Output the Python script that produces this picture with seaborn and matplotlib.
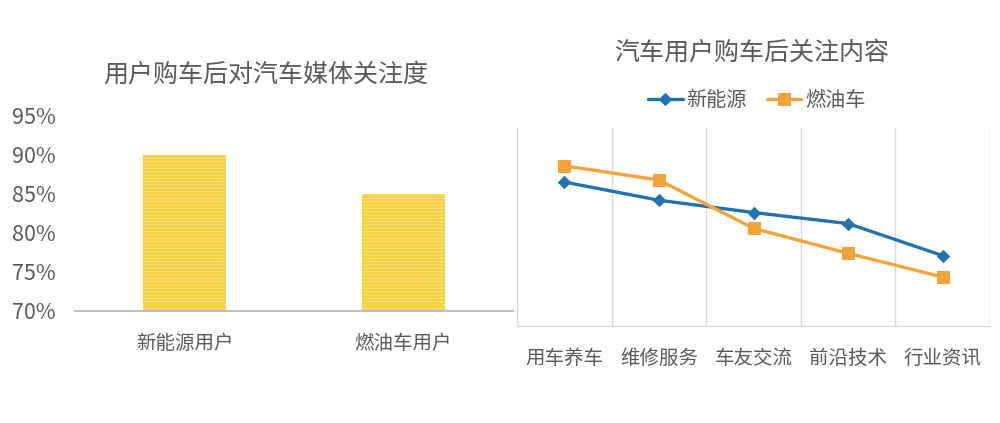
import matplotlib
matplotlib.use("Agg")
import matplotlib.pyplot as plt
import pandas as pd
import seaborn as sns

# 左图：购车后对汽车媒体关注度
user_types = ["新能源用户", "燃油车用户"]
media_attention = [0.90, 0.85]

# 右图：购车后关注内容（原图无纵轴刻度，数值按图形位置估读）
topics = ["用车养车", "维修服务", "车友交流", "前沿技术", "行业资讯"]
nev_values = [0.864, 0.818, 0.787, 0.759, 0.678]
fuel_values = [0.905, 0.869, 0.747, 0.684, 0.624]

sns.set_theme(style="white")
plt.rcParams["font.family"] = ["Noto Sans CJK SC", "DejaVu Sans"]
plt.rcParams["hatch.linewidth"] = 0.7

text_gray = "#595959"
bar_yellow = "#F5D03A"
stripe_yellow = "#FBE38A"
blue = "#2372B0"
orange = "#F4A23A"

fig = plt.figure(figsize=(10, 4.23), dpi=100)

# ---------------- 左图 ----------------
ax1 = fig.add_axes([0.075, 0.265, 0.438, 0.461])
df_left = pd.DataFrame({"类型": user_types, "关注度": media_attention})
sns.barplot(data=df_left, x="类型", y="关注度", color=bar_yellow,
            width=0.38, ax=ax1, saturation=1)
for p in ax1.patches:
    p.set_hatch("-----")
    p.set_edgecolor(stripe_yellow)
    p.set_linewidth(0)
ax1.set_ylim(0.70, 0.95)
ax1.set_xlim(-0.5, 1.5)
ax1.set_yticks([0.70, 0.75, 0.80, 0.85, 0.90, 0.95])
ax1.set_yticklabels([f"{int(round(v * 100))}%" for v in ax1.get_yticks()],
                    fontsize=15.5, color=text_gray)
ax1.tick_params(axis="x", labelsize=14, colors=text_gray, length=0, pad=16)
ax1.tick_params(axis="y", length=0, pad=14)
ax1.set_xlabel("")
ax1.set_ylabel("")
for side in ["top", "right", "left"]:
    ax1.spines[side].set_visible(False)
ax1.spines["bottom"].set_color("#BFBFBF")
ax1.spines["bottom"].set_linewidth(1.5)
fig.text(0.266, 0.823, "用户购车后对汽车媒体关注度", ha="center", va="center",
         fontsize=18, color=text_gray)

# ---------------- 右图 ----------------
ax2 = fig.add_axes([0.517, 0.229, 0.473, 0.468])
df_right = pd.DataFrame({"内容": topics * 2,
                         "比例": nev_values + fuel_values,
                         "类型": ["新能源"] * len(topics) + ["燃油车"] * len(topics)})
sns.lineplot(data=df_right[df_right["类型"] == "新能源"], x="内容", y="比例",
             color=blue, marker="D", markersize=6, markeredgecolor=blue,
             linewidth=2.4, ax=ax2, label="新能源")
sns.lineplot(data=df_right[df_right["类型"] == "燃油车"], x="内容", y="比例",
             color=orange, marker="s", markersize=8, markeredgecolor=orange,
             linewidth=2.4, ax=ax2, label="燃油车")
ax2.set_xlim(-0.5, len(topics) - 0.5)
ax2.set_ylim(0.5, 1.0)
ax2.set_xticks(range(len(topics)))
ax2.set_xticklabels(topics, fontsize=14, color=text_gray)
ax2.set_xticks([i - 0.5 for i in range(len(topics) + 1)], minor=True)
ax2.grid(which="minor", axis="x", color="#D9D9D9", linewidth=1)
ax2.tick_params(axis="x", which="both", length=0, pad=16)
ax2.set_yticks([])
ax2.set_xlabel("")
ax2.set_ylabel("")
for side in ["top", "right", "left"]:
    ax2.spines[side].set_visible(False)
ax2.spines["bottom"].set_color("#D9D9D9")
ax2.spines["bottom"].set_linewidth(1)
ax2.legend(loc="center", bbox_to_anchor=(0.757, 0.762), bbox_transform=fig.transFigure,
           ncol=2, frameon=False, fontsize=14.5, handlelength=1.7, handletextpad=0.2,
           columnspacing=1.0, labelcolor=text_gray)
fig.text(0.752, 0.875, "汽车用户购车后关注内容", ha="center", va="center",
         fontsize=18, color=text_gray)

fig.savefig("out.png", dpi=100, facecolor="white")
